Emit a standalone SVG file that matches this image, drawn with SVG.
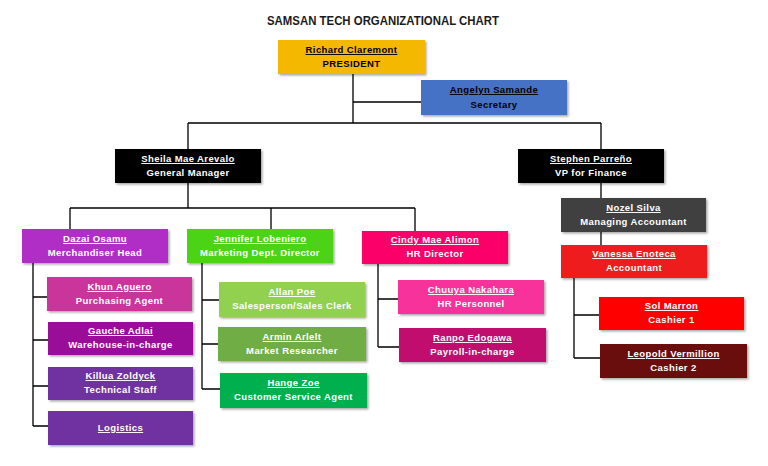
<svg xmlns="http://www.w3.org/2000/svg" width="768" height="466" viewBox="0 0 768 466">
<defs>
<filter id="sh" x="-10%" y="-20%" width="130%" height="150%">
<feDropShadow dx="1.5" dy="1.5" stdDeviation="1" flood-color="#000" flood-opacity="0.35"/>
</filter>
</defs>
<style>
.b{filter:url(#sh)}
text{font-family:"Liberation Sans",Arial,sans-serif;font-weight:bold;font-size:9.5px;text-anchor:middle;fill:#fff;letter-spacing:0.4px}
.n{text-decoration:underline}
.dk{fill:#000}
.c{fill:none;stroke:#000;stroke-width:1.3}
.t{font-size:13px;fill:#1a1a1a;letter-spacing:0}
</style>
<rect width="768" height="466" fill="#fff"/>
<text class="t" x="383" y="25" textLength="232" lengthAdjust="spacingAndGlyphs">SAMSAN TECH ORGANIZATIONAL CHART</text>

<g id="connectors">
<path class="c" d="M353 74V123M353 102H421M188 123H601M188 123V149M601 123V149"/>
<path class="c" d="M188 183V208M70 208H415M70 208V229M271 208V229M415 208V231"/>
<path class="c" d="M601 183V198M601 232V245"/>
<path class="c" d="M33 263V426M33 297H47M33 340H48M33 386H48M33 426H48"/>
<path class="c" d="M202 263V389M202 300H219M202 344H218M202 389H220"/>
<path class="c" d="M378 264V347M378 299H398M378 347H399"/>
<path class="c" d="M574 278V358M574 315H599M574 358H600"/>
</g>

<g id="president"><rect class="b" x="278" y="40" width="147" height="34" fill="#F5B800"/><text class="n dk" x="351.5" y="53">Richard Claremont</text><text class="dk" x="351.5" y="67">PRESIDENT</text></g>
<g id="secretary"><rect class="b" x="421" y="80" width="146" height="35" fill="#4472C4"/><text class="n dk" x="494" y="93">Angelyn Samande</text><text class="dk" x="494" y="108">Secretary</text></g>
<g id="gm"><rect class="b" x="115" y="149" width="146" height="34" fill="#050505"/><text class="n" x="188" y="162">Sheila Mae Arevalo</text><text x="188" y="176">General Manager</text></g>
<g id="vp"><rect class="b" x="518" y="149" width="146" height="34" fill="#050505"/><text class="n" x="591" y="162">Stephen Parreño</text><text x="591" y="176">VP for Finance</text></g>

<g id="dazai"><rect class="b" x="22" y="229" width="146" height="34" fill="#B12FC6"/><text class="n" x="95" y="242">Dazai Osamu</text><text x="95" y="256">Merchandiser Head</text></g>
<g id="jennifer"><rect class="b" x="187" y="229" width="146" height="34" fill="#4CD418"/><text class="n" x="260" y="242">Jennifer Lobeniero</text><text x="260" y="256">Marketing Dept. Director</text></g>
<g id="cindy"><rect class="b" x="362" y="231" width="146" height="33" fill="#FA0068"/><text class="n" x="435" y="243">Cindy Mae Alimon</text><text x="435" y="257">HR Director</text></g>
<g id="nozel"><rect class="b" x="561" y="198" width="145" height="34" fill="#404040"/><text class="n" x="633.5" y="211">Nozel Silva</text><text x="633.5" y="225">Managing Accountant</text></g>
<g id="vanessa"><rect class="b" x="561" y="245" width="146" height="33" fill="#EE1C1C"/><text class="n" x="634" y="257">Vanessa Enoteca</text><text x="634" y="271">Accountant</text></g>

<g id="khun"><rect class="b" x="47" y="277" width="145" height="34" fill="#C9369A"/><text class="n" x="119.5" y="290">Khun Aguero</text><text x="119.5" y="304">Purchasing Agent</text></g>
<g id="gauche"><rect class="b" x="48" y="322" width="145" height="33" fill="#990A99"/><text class="n" x="120.5" y="334">Gauche Adlai</text><text x="120.5" y="348">Warehouse-in-charge</text></g>
<g id="killua"><rect class="b" x="48" y="367" width="145" height="33" fill="#7030A0"/><text class="n" x="120.5" y="379">Killua Zoldyck</text><text x="120.5" y="393">Technical Staff</text></g>
<g id="logistics"><rect class="b" x="48" y="411" width="145" height="34" fill="#7030A0"/><text class="n" x="120.5" y="431">Logistics</text></g>

<g id="allan"><rect class="b" x="219" y="282" width="146" height="35" fill="#92D050"/><text class="n" x="292" y="295">Allan Poe</text><text x="292" y="309">Salesperson/Sales Clerk</text></g>
<g id="armin"><rect class="b" x="218" y="327" width="148" height="34" fill="#6FAE45"/><text class="n" x="292" y="340">Armin Arlelt</text><text x="292" y="354">Market Researcher</text></g>
<g id="hange"><rect class="b" x="220" y="373" width="147" height="35" fill="#00B050"/><text class="n" x="293.5" y="386">Hange Zoe</text><text x="293.5" y="400">Customer Service Agent</text></g>

<g id="chuuya"><rect class="b" x="398" y="280" width="146" height="34" fill="#F7339A"/><text class="n" x="471" y="293">Chuuya Nakahara</text><text x="471" y="307">HR Personnel</text></g>
<g id="ranpo"><rect class="b" x="399" y="328" width="147" height="34" fill="#C00A6E"/><text class="n" x="472.5" y="341">Ranpo Edogawa</text><text x="472.5" y="355">Payroll-in-charge</text></g>

<g id="sol"><rect class="b" x="599" y="297" width="145" height="33" fill="#FF0000"/><text class="n" x="671.5" y="309">Sol Marron</text><text x="671.5" y="323">Cashier 1</text></g>
<g id="leopold"><rect class="b" x="600" y="344" width="147" height="34" fill="#6B0A0A"/><text class="n" x="673.5" y="357">Leopold Vermillion</text><text x="673.5" y="371">Cashier 2</text></g>
</svg>
